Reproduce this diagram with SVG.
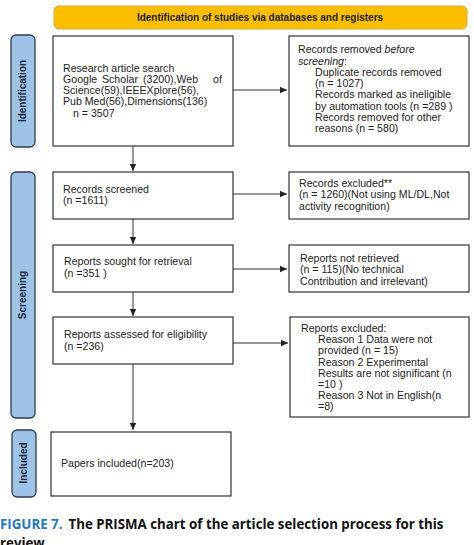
<svg xmlns="http://www.w3.org/2000/svg" width="474" height="545" viewBox="0 0 474 545">
<defs>
<style>
.box{fill:#fff;stroke:#333;stroke-width:1.2}
.side{fill:#9ec3e6;stroke:#2f3b52;stroke-width:1.3}
.t{font-family:"Liberation Sans",Arial,sans-serif;font-size:10.6px;fill:#222}
.st{font-family:"Liberation Sans",Arial,sans-serif;font-size:10px;font-weight:bold;fill:#1e2a3a}
.c{stroke:#333;stroke-width:1;fill:none;marker-end:url(#ah)}
.cap{font-family:"Open Sans","Liberation Sans",sans-serif;font-size:13.3px;font-weight:bold}
</style>
<marker id="ah" markerWidth="8" markerHeight="8" refX="7" refY="4" orient="auto" markerUnits="userSpaceOnUse">
<path d="M0,0.8 L7,4 L0,7.2 Z" fill="#222"/>
</marker>
</defs>
<rect width="474" height="545" fill="#fff"/>

<g id="banner">
<rect x="54" y="6" width="413" height="23" rx="5" fill="#fbbf00" stroke="#d6a838" stroke-width="1"/>
<text class="st" x="260" y="21" text-anchor="middle" style="fill:#222">Identification of studies via databases and registers</text>
</g>

<g id="side-identification">
<rect class="side" x="11" y="35" width="24" height="112" rx="5"/>
<text class="st" transform="translate(26,91) rotate(-90)" text-anchor="middle">Identification</text>
</g>
<g id="side-screening">
<rect class="side" x="11" y="172" width="24" height="246" rx="5"/>
<text class="st" transform="translate(26,295) rotate(-90)" text-anchor="middle">Screening</text>
</g>
<g id="side-included">
<rect class="side" x="12" y="430" width="24" height="67" rx="5"/>
<text class="st" transform="translate(27,463) rotate(-90)" text-anchor="middle">Included</text>
</g>

<g id="connectors">
<path class="c" d="M233,90 H287"/>
<path class="c" d="M133,146 V171"/>
<path class="c" d="M233,194 H287"/>
<path class="c" d="M133,219 V244"/>
<path class="c" d="M233,269 H287"/>
<path class="c" d="M133,292 V316"/>
<path class="c" d="M233,343 H288"/>
<path class="c" d="M133,364 V430"/>
</g>

<g id="search">
<rect class="box" x="53" y="36" width="180" height="110"/>
<text class="t" x="63" y="72">Research article search</text>
<text class="t" y="83"><tspan x="63">Google</tspan><tspan x="102">Scholar</tspan><tspan x="143">(3200),Web</tspan><tspan x="213">of</tspan></text>
<text class="t" x="63" y="94">Science(59),IEEEXplore(56),</text>
<text class="t" x="63" y="105">Pub Med(56),Dimensions(136)</text>
<text class="t" x="73" y="117">n = 3507</text>
</g>

<g id="removed">
<rect class="box" x="289" y="36" width="180" height="110"/>
<text class="t" x="298" y="53">Records removed <tspan font-style="italic">before</tspan></text>
<text class="t" x="298" y="65" font-style="italic">screening<tspan font-style="normal">:</tspan></text>
<text class="t" x="315" y="76">Duplicate records removed</text>
<text class="t" x="315" y="87">(n = 1027)</text>
<text class="t" x="315" y="98">Records marked as ineligible</text>
<text class="t" x="315" y="110">by automation tools (n =289 )</text>
<text class="t" x="315" y="121">Records removed for other</text>
<text class="t" x="315" y="132">reasons (n = 580)</text>
</g>

<g id="screened">
<rect class="box" x="53" y="172" width="180" height="47"/>
<text class="t" x="63" y="193">Records screened</text>
<text class="t" x="63" y="204">(n =1611)</text>
</g>

<g id="excluded">
<rect class="box" x="289" y="172" width="180" height="47"/>
<text class="t" x="299" y="187">Records excluded**</text>
<text class="t" x="299" y="198">(n = 1260)(Not using ML/DL,Not</text>
<text class="t" x="299" y="210">activity recognition)</text>
</g>

<g id="sought">
<rect class="box" x="53" y="245" width="180" height="47"/>
<text class="t" x="64" y="265">Reports sought for retrieval</text>
<text class="t" x="64" y="277">(n =351 )</text>
</g>

<g id="not-retrieved">
<rect class="box" x="289" y="245" width="180" height="47"/>
<text class="t" x="300" y="262">Reports not retrieved</text>
<text class="t" x="300" y="273">(n = 115)(No technical</text>
<text class="t" x="300" y="285">Contribution and irrelevant)</text>
</g>

<g id="assessed">
<rect class="box" x="53" y="317" width="180" height="47"/>
<text class="t" x="64" y="338">Reports assessed for eligibility</text>
<text class="t" x="64" y="350">(n =236)</text>
</g>

<g id="reports-excluded">
<rect class="box" x="290" y="317" width="179" height="100"/>
<text class="t" x="301" y="332">Reports excluded:</text>
<text class="t" x="318" y="343">Reason 1 Data were not</text>
<text class="t" x="318" y="354">provided (n = 15)</text>
<text class="t" x="318" y="366">Reason 2 Experimental</text>
<text class="t" x="318" y="377">Results are not significant  (n</text>
<text class="t" x="318" y="388">=10 )</text>
<text class="t" x="318" y="399">Reason 3 Not in English(n</text>
<text class="t" x="318" y="410">=8)</text>
</g>

<g id="included">
<rect class="box" x="51" y="432" width="180" height="64"/>
<text class="t" x="61" y="467">Papers included(n=203)</text>
</g>

<text class="cap" x="0" y="529"><tspan fill="#1f77c8">FIGURE 7.</tspan><tspan fill="#111" dx="6">The PRISMA chart of the article selection process for this</tspan></text>
<text class="cap" x="0" y="548" fill="#111">review</text>
</svg>
